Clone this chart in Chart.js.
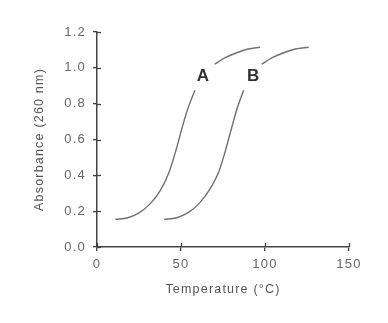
<!DOCTYPE html>
<html>
<head>
<meta charset="utf-8">
<script src="https://cdn.jsdelivr.net/npm/chart.js@4"></script>
<style>
html,body{margin:0;padding:0;background:#fff;}
#wrap{width:388px;height:323px;}
</style>
</head>
<body>
<div id="wrap"><canvas id="c" width="388" height="323"></canvas></div>
<script>
// Curve A (lower transition and upper plateau)
const aLowT = [11, 18, 25, 32, 38, 43, 47, 50.5, 54, 58.3];
const aLowY = [0.155, 0.162, 0.19, 0.245, 0.32, 0.42, 0.54, 0.66, 0.77, 0.875];
const aHighT = [70, 76, 82, 90, 97];
const aHighY = [1.02, 1.055, 1.08, 1.105, 1.115];
// Curve B
const bLowT = [40, 47, 54, 61, 67, 72.5, 76.5, 80, 83.3, 87.3];
const bLowY = [0.155, 0.162, 0.19, 0.245, 0.32, 0.42, 0.54, 0.66, 0.77, 0.875];
const bHighT = [98, 104, 110, 118, 126];
const bHighY = [1.02, 1.055, 1.08, 1.105, 1.115];
// Curve labels
const curveLabels = ['A', 'B'];
const labelT = [63, 93];
const labelY = [0.955, 0.955];
// Axes
const xTicks = [0, 50, 100, 150];
const yTicks = [0.0, 0.2, 0.4, 0.6, 0.8, 1.0, 1.2];
const xTitle = 'Temperature (°C)';
const yTitle = 'Absorbance (260 nm)';

const pts = (xs, ys) => xs.map((x, i) => ({x: x, y: ys[i]}));
const lineColor = '#707070';
const mk = (xs, ys) => ({
  data: pts(xs, ys),
  borderColor: lineColor,
  borderWidth: 1.4,
  pointRadius: 0,
  fill: false,
  cubicInterpolationMode: 'monotone'
});

const FONT = '"Liberation Sans", Arial, sans-serif';

const spacing = {
  id: 'spacing',
  beforeDraw(chart) { chart.ctx.letterSpacing = '1.2px'; }
};

const extras = {
  id: 'extras',
  afterDraw(chart) {
    const ctx = chart.ctx;
    const xs = chart.scales.x, ys = chart.scales.y;
    ctx.save();
    ctx.letterSpacing = '0px';
    // inward tick marks
    ctx.strokeStyle = '#444';
    ctx.lineWidth = 1.3;
    xTicks.forEach(v => {
      const px = Math.round(xs.getPixelForValue(v)) + 0.5;
      ctx.beginPath(); ctx.moveTo(px, ys.bottom); ctx.lineTo(px, ys.bottom - 4); ctx.stroke();
    });
    yTicks.forEach(v => {
      const py = Math.round(ys.getPixelForValue(v)) + 0.5;
      ctx.beginPath(); ctx.moveTo(xs.left, py); ctx.lineTo(xs.left + 4, py); ctx.stroke();
    });
    // curve labels
    ctx.fillStyle = '#333';
    ctx.font = 'bold 17px ' + FONT;
    ctx.textAlign = 'center';
    ctx.textBaseline = 'middle';
    curveLabels.forEach((t, i) => {
      ctx.fillText(t, xs.getPixelForValue(labelT[i]), ys.getPixelForValue(labelY[i]));
    });
    ctx.restore();
  }
};

new Chart(document.getElementById('c'), {
  type: 'line',
  data: {
    datasets: [mk(aLowT, aLowY), mk(aHighT, aHighY), mk(bLowT, bLowY), mk(bHighT, bHighY)]
  },
  options: {
    responsive: false,
    animation: false,
    devicePixelRatio: 1,
    layout: {padding: {left: 0, right: 39, top: 32, bottom: 0}},
    plugins: {legend: {display: false}, tooltip: {enabled: false}},
    scales: {
      x: {
        type: 'linear',
        min: 0, max: 150,
        afterBuildTicks: s => { s.ticks = xTicks.map(v => ({value: v})); },
        afterFit: s => { s.height = 76; },
        border: {display: true, color: '#444', width: 1.5},
        grid: {display: true, drawOnChartArea: false, drawTicks: true, tickLength: 4, color: '#444', lineWidth: 1.3},
        ticks: {color: '#666', font: {family: FONT, size: 13}, padding: 6, maxRotation: 0},
        title: {display: true, text: xTitle, color: '#555', font: {family: FONT, size: 12.5}, padding: {top: 0, bottom: 26}}
      },
      y: {
        type: 'linear',
        min: 0, max: 1.2,
        afterBuildTicks: s => { s.ticks = yTicks.map(v => ({value: v})); },
        afterFit: s => { s.width = 97; },
        border: {display: true, color: '#444', width: 1.5},
        grid: {display: true, drawOnChartArea: false, drawTicks: true, tickLength: 4, color: '#444', lineWidth: 1.3},
        ticks: {color: '#666', font: {family: FONT, size: 13}, padding: 7, callback: v => v.toFixed(1)},
        title: {display: true, text: yTitle, color: '#555', font: {family: FONT, size: 12.5}, padding: {top: 32, bottom: 0}}
      }
    }
  },
  plugins: [spacing, extras]
});
</script>
</body>
</html>
